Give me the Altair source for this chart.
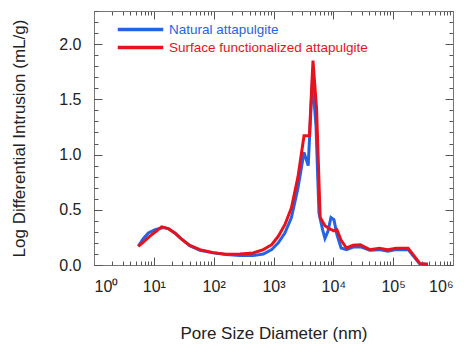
import altair as alt
import pandas as pd

# Pore diameters (nm) and log differential intrusion (mL/g)
nat_x = [5.5, 6.6, 8.1, 10.5, 14.5, 17.4, 22.4, 28.8, 39.8, 58.9, 97.7, 162, 275, 457, 676, 933,
         1202, 1549, 1995, 2570, 3236, 3802, 4467, 5129, 5754, 6607, 7244, 8128, 9120, 10233,
         11482, 13490, 16596, 21380, 29512, 40738, 58884, 81283, 112202, 177828, 275423, 380189]
nat_y = [0.169, 0.236, 0.29, 0.32, 0.34, 0.33, 0.29, 0.236, 0.175, 0.133, 0.11, 0.094, 0.085, 0.085,
         0.10, 0.14, 0.20, 0.29, 0.43, 0.70, 1.02, 0.90, 1.68, 1.26, 0.47, 0.32, 0.24, 0.305, 0.43,
         0.41, 0.275, 0.154, 0.139, 0.163, 0.163, 0.133, 0.139, 0.124, 0.139, 0.139, 0.012, 0.006]

sur_x = [5.5, 6.6, 8.5, 11.2, 13.5, 17.4, 22.4, 28.8, 39.8, 58.9, 97.7, 162, 275, 457, 676, 933,
         1202, 1549, 1995, 2570, 3236, 3981, 4571, 5248, 6026, 7244, 8710, 10233, 11482, 13490,
         16596, 21380, 28184, 40738, 58884, 81283, 112202, 177828, 281838, 380189]
sur_y = [0.17, 0.205, 0.26, 0.31, 0.345, 0.33, 0.29, 0.236, 0.178, 0.139, 0.112, 0.097, 0.10, 0.109,
         0.139, 0.184, 0.26, 0.365, 0.517, 0.80, 1.17, 1.17, 1.85, 1.41, 0.43, 0.356, 0.326, 0.31,
         0.32, 0.224, 0.154, 0.178, 0.184, 0.139, 0.151, 0.139, 0.151, 0.151, 0.012, 0.006]

series = ["Natural attapulgite", "Surface functionalized attapulgite"]
colors = ["#2563e6", "#e8121c"]

x_major = [1, 10, 100, 1000, 10000, 100000, 1000000]
y_major = [0.0, 0.5, 1.0, 1.5, 2.0]

rows = []
for name, xs, ys in [(series[0], nat_x, nat_y), (series[1], sur_x, sur_y)]:
    for i, (a, b) in enumerate(zip(xs, ys)):
        rows.append({"series": name, "d": a, "v": b, "i": i})
df = pd.DataFrame(rows)

FONT = "Liberation Sans"
xscale = alt.Scale(type="log", domain=[1, 1e6], nice=False)
yscale = alt.Scale(domain=[0, 2.3], nice=False, zero=False)
TC = "#555555"
FC = "#777777"

sup = "['\u2070','\u00b9','\u00b2','\u00b3','\u2074','\u2075','\u2076']"

lines = alt.Chart(df).mark_line(strokeWidth=3).encode(
    x=alt.X("d:Q", scale=xscale, axis=alt.Axis(
        orient="bottom", values=x_major, ticks=True, tickSize=0, tickOpacity=0,
        domain=True, domainColor=FC, domainWidth=1, gridOpacity=0,
        labelExpr="'10' + " + sup + "[round(log(datum.value)/LN10)]",
        labelFontSize=16, labelPadding=13, labelColor="#222222", labelFont=FONT,
        title="Pore Size Diameter (nm)", titleFontSize=17, titleFontWeight="normal",
        titleFont=FONT, titleColor="#222222", titlePadding=31)),
    y=alt.Y("v:Q", scale=yscale, axis=alt.Axis(
        orient="left", values=y_major, format=".1f", ticks=True, tickSize=0, tickOpacity=0,
        domain=True, domainColor=FC, domainWidth=1, gridOpacity=0,
        labelFontSize=16, labelPadding=13, labelColor="#222222", labelFont=FONT,
        title="Log Differential Intrusion (mL/g)", titleFontSize=17, titleFontWeight="normal",
        titleFont=FONT, titleColor="#222222", titlePadding=30)),
    color=alt.Color("series:N", scale=alt.Scale(domain=series, range=colors),
                    legend=alt.Legend(
                        orient="none", legendX=38, legendY=10, title=None,
                        symbolType="M-3.5,0H3.5", symbolSize=169, symbolStrokeWidth=3.5,
                        labelFontSize=13.5, labelFont=FONT, labelOffset=20, rowPadding=2,
                        labelLimit=400,
                        labelColor={"expr": "datum.label == '" + series[0] + "' ? '" + colors[0] + "' : '" + colors[1] + "'"})),
    order="i:Q",
)


def tick_axis(orient, count, size):
    return alt.Axis(orient=orient, tickCount=count, tickSize=size, offset=-size, labels=False,
                    domain=False, gridOpacity=0, title=" ", titleOpacity=0,
                    ticks=True, tickColor=TC, tickOpacity=1, tickWidth=1)


def frame_axis(orient):
    return alt.Axis(orient=orient, tickCount=2, tickSize=0, labels=False, domain=True,
                    domainColor=FC, domainWidth=1, gridOpacity=0, title=" ", titleOpacity=0)


def guide_layer(xa, ya):
    return alt.Chart(df).mark_point(opacity=0).encode(
        x=alt.X("d:Q", scale=xscale, axis=xa),
        y=alt.Y("v:Q", scale=yscale, axis=ya),
    )


t1 = guide_layer(tick_axis("bottom", 6, 8), tick_axis("left", 5, 8))
t2 = guide_layer(tick_axis("bottom", 20, 4), tick_axis("left", 23, 4))
t3 = guide_layer(tick_axis("top", 6, 8), tick_axis("right", 5, 8))
t4 = guide_layer(tick_axis("top", 20, 4), tick_axis("right", 23, 4))
t5 = guide_layer(frame_axis("top"), frame_axis("right"))

chart = alt.layer(lines, t1, t2, t3, t4, t5).resolve_axis(
    x="independent", y="independent"
).properties(
    width=359, height=254,
    autosize=alt.AutoSizeParams(type="none"),
    padding={"left": 94, "top": 11, "right": 21, "bottom": 88},
    background="white",
)

chart.save("out.html", embed_options={"renderer": "svg", "actions": False})
